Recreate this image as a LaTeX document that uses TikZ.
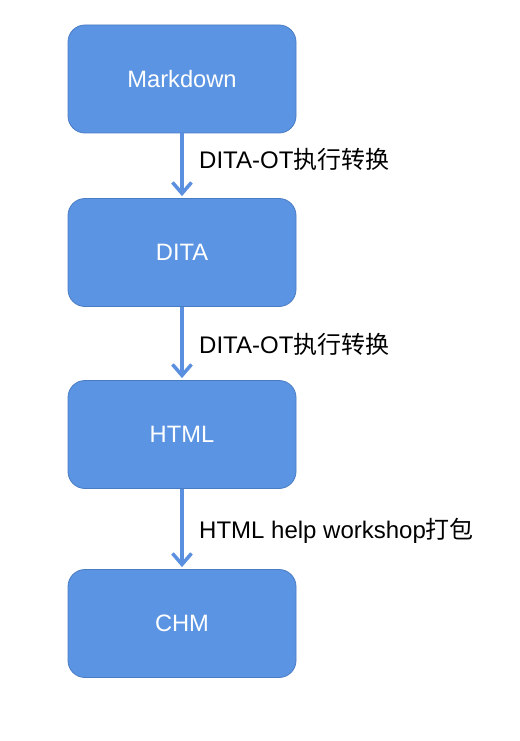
\documentclass[tikz,border=0pt]{standalone}
\usepackage{fontspec}
\setmainfont{Liberation Sans}
\newfontfamily\cjk{Noto Sans CJK SC}
\usetikzlibrary{arrows.meta}
\definecolor{boxfill}{HTML}{5B94E2}
\definecolor{boxline}{HTML}{4A7CC4}
\definecolor{arrowc}{HTML}{5B90E0}
\tikzset{
  stage/.style={draw=boxline, line width=0.8pt, fill=boxfill, rounded corners=17pt,
    minimum width=228pt, minimum height=108pt, text=white,
    font=\fontsize{23.7pt}{26pt}\selectfont, text height=16.8pt, text depth=0pt, inner sep=0pt},
  flow/.style={draw=arrowc, line width=4pt, -{Straight Barb[length=11pt, width=19pt, line width=3.5pt]}, shorten >=2pt},
  lbl/.style={anchor=base west, inner sep=0pt, font=\fontsize{24pt}{26pt}\selectfont, text=black}
}
\begin{document}
\begin{tikzpicture}[x=1pt, y=-1pt]
\useasboundingbox (0,0) rectangle (519,741);
\fill[white] (0,0) rectangle (519,741);
\node[stage] (md) at (182,79) {Markdown};
\node[stage] (dita) at (182,252.5) {DITA};
\node[stage] (html) at (182,434.5) {HTML};
\node[stage] (chm) at (182,623.5) {CHM};
\draw[flow] (md.south) -- (dita.north);
\draw[flow] (dita.south) -- (html.north);
\draw[flow] (html.south) -- (chm.north);
\node[lbl] (l1) at (199,168) {DITA-OT{\cjk 执行转换}};
\node[lbl] (l2) at (199,353) {DITA-OT{\cjk 执行转换}};
\node[lbl] (l3) at (199,538) {HTML help workshop{\cjk 打包}};
\end{tikzpicture}
\end{document}
